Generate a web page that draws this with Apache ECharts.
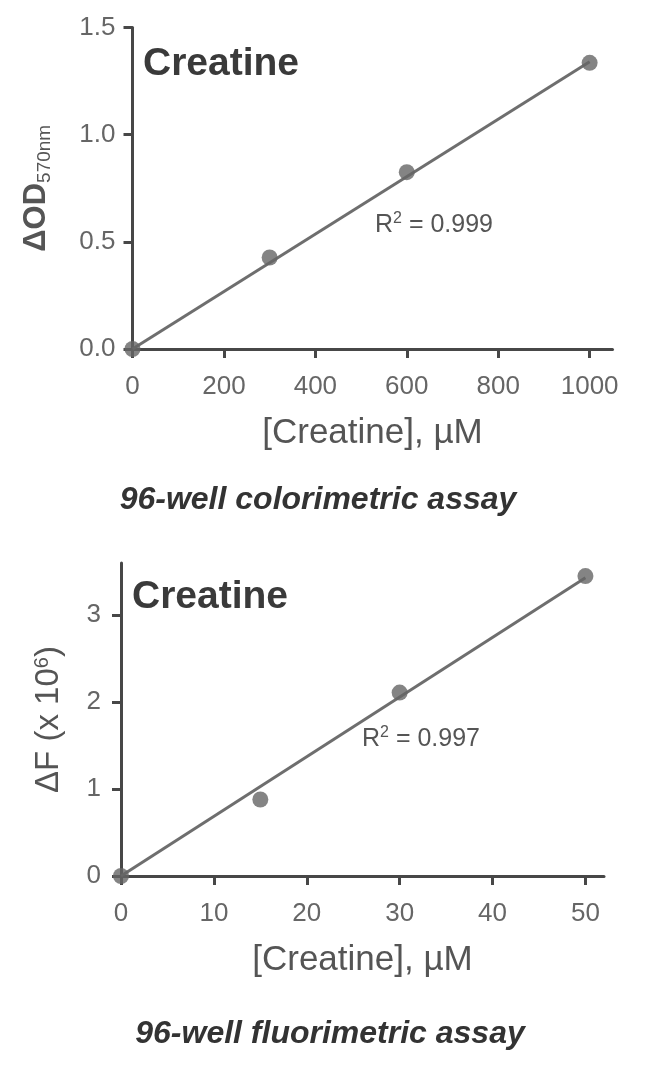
<!DOCTYPE html>
<html><head><meta charset="utf-8">
<script src="https://cdn.jsdelivr.net/npm/echarts@6/dist/echarts.min.js"></script>
<style>html,body{margin:0;padding:0;background:#fff}#c{width:650px;height:1088px}</style>
</head><body><div id="c"></div>
<script>
// ---- data (top: colorimetric) ----
const topX = [0, 300, 600, 1000];
const topY = [0, 0.427, 0.825, 1.335];
const topFitX = [0, 1000];
const topFitY = [0, 1.34];
const topXTicks = [0, 200, 400, 600, 800, 1000];
const topXLabels = ['0', '200', '400', '600', '800', '1000'];
const topYTicks = [0, 0.5, 1.0, 1.5];
const topYLabels = ['0.0', '0.5', '1.0', '1.5'];
// ---- data (bottom: fluorimetric) ----
const botX = [0, 15, 30, 50];
const botY = [0, 0.88, 2.11, 3.45];
const botFitX = [0, 50];
const botFitY = [0, 3.43];
const botXTicks = [0, 10, 20, 30, 40, 50];
const botXLabels = ['0', '10', '20', '30', '40', '50'];
const botYTicks = [0, 1, 2, 3];
const botYLabels = ['0', '1', '2', '3'];
const titleText = 'Creatine';
const xName = '[Creatine], µM';
const topR2 = '0.999';
const botR2 = '0.997';
const topCaption = '96-well colorimetric assay';
const botCaption = '96-well fluorimetric assay';

const FF = 'Liberation Sans, Arial, Helvetica, sans-serif';
const AX = '#474747';
const pairs = (xs, ys) => xs.map((x, i) => [x, ys[i]]);
const fmt = (ticks, labels) => v => { const i = ticks.indexOf(v); return i >= 0 ? labels[i] : ''; };

function xAxisCfg(grid, max, ticks, labels) {
  return {
    type: 'value', gridIndex: grid, min: 0, max: max,
    name: xName, nameLocation: 'middle', nameGap: 67,
    nameTextStyle: { fontFamily: FF, fontSize: 35, color: '#555' },
    axisLine: { show: true, onZero: false, lineStyle: { color: AX, width: 3 } },
    axisTick: { show: true, length: 9, customValues: ticks, lineStyle: { color: AX, width: 3 } },
    axisLabel: { customValues: ticks, fontFamily: FF, fontSize: 26, color: '#666', margin: 25,
      formatter: fmt(ticks, labels) },
    splitLine: { show: false }
  };
}
function yAxisCfg(grid, max, ticks, labels, nameRich, nameGap, margin) {
  return {
    type: 'value', gridIndex: grid, min: 0, max: max,
    name: nameRich.text, nameLocation: 'middle', nameRotate: 90, nameGap: nameGap,
    nameTextStyle: { fontFamily: FF, color: '#555', rich: nameRich.rich },
    axisLine: { show: true, onZero: false, lineStyle: { color: AX, width: 3 } },
    axisTick: { show: true, length: 9, customValues: ticks, lineStyle: { color: AX, width: 3 } },
    axisLabel: { customValues: ticks, fontFamily: FF, fontSize: 26, color: '#666', margin: margin,
      formatter: fmt(ticks, labels) },
    splitLine: { show: false }
  };
}

const chart = echarts.init(document.getElementById('c'), null, { renderer: 'canvas' });
chart.setOption({
  backgroundColor: '#ffffff',
  animation: false,
  grid: [
    { left: 132.5, top: 27.5, width: 480, height: 321.5 },
    { left: 121, top: 563, width: 483, height: 313 }
  ],
  xAxis: [xAxisCfg(0, 1050, topXTicks, topXLabels), xAxisCfg(1, 52, botXTicks, botXLabels)],
  yAxis: [
    yAxisCfg(0, 1.5, topYTicks, topYLabels, {
      text: '{a|ΔOD}{b|570nm}',
      rich: { a: { fontFamily: FF, fontSize: 31, fontWeight: 'bold', color: '#555' },
              b: { fontFamily: FF, fontSize: 19, color: '#555', padding: [18, 0, 0, 0] } }
    }, 78, 17),
    yAxisCfg(1, 3.6, botYTicks, botYLabels, {
      text: '{a|ΔF (x 10}{s|6}{a|)}',
      rich: { a: { fontFamily: FF, fontSize: 33, color: '#555' },
              s: { fontFamily: FF, fontSize: 20, color: '#555', padding: [0, 0, 14, 0] } }
    }, 55, 20)
  ],
  series: [
    { type: 'line', xAxisIndex: 0, yAxisIndex: 0, data: pairs(topFitX, topFitY), symbol: 'none',
      lineStyle: { color: '#6e6e6e', width: 3 }, z: 3 },
    { type: 'scatter', xAxisIndex: 0, yAxisIndex: 0, data: pairs(topX, topY), symbolSize: 16,
      itemStyle: { color: '#656565' }, clip: false, z: 4 },
    { type: 'line', xAxisIndex: 1, yAxisIndex: 1, data: pairs(botFitX, botFitY), symbol: 'none',
      lineStyle: { color: '#6e6e6e', width: 3 }, z: 3 },
    { type: 'scatter', xAxisIndex: 1, yAxisIndex: 1, data: pairs(botX, botY), symbolSize: 16,
      itemStyle: { color: '#656565' }, clip: false, z: 4 }
  ],
  graphic: [
    { type: 'text', left: 143, top: 45, style: { text: titleText, font: 'bold 39px ' + FF, fill: '#3a3a3a' } },
    { type: 'text', left: 132, top: 578, style: { text: titleText, font: 'bold 39px ' + FF, fill: '#3a3a3a' } },
    { type: 'text', left: 375, top: 211, style: {
        text: '{r|R}{s|2}{r| = ' + topR2 + '}',
        rich: { r: { fontFamily: FF, fontSize: 25, fill: '#555' },
                s: { fontFamily: FF, fontSize: 16, fill: '#555', padding: [0, 0, 12, 0] } } } },
    { type: 'text', left: 362, top: 725, style: {
        text: '{r|R}{s|2}{r| = ' + botR2 + '}',
        rich: { r: { fontFamily: FF, fontSize: 25, fill: '#555' },
                s: { fontFamily: FF, fontSize: 16, fill: '#555', padding: [0, 0, 12, 0] } } } },
    { type: 'text', x: 318, y: 500, style: { text: topCaption, font: 'italic bold 32px ' + FF,
        fill: '#333', align: 'center', verticalAlign: 'middle' } },
    { type: 'text', x: 330, y: 1034, style: { text: botCaption, font: 'italic bold 32px ' + FF,
        fill: '#333', align: 'center', verticalAlign: 'middle' } }
  ]
});
</script>
</body></html>
